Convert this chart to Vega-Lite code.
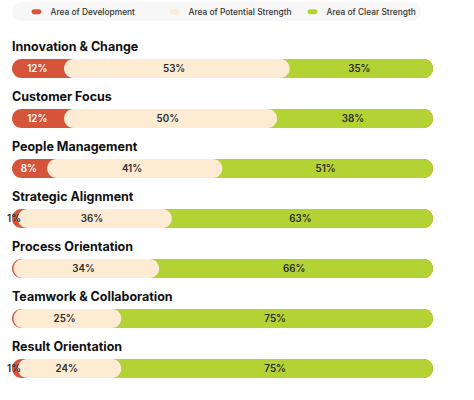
{
  "$schema": "https://vega.github.io/schema/vega-lite/v6.json",
  "autosize": {"type": "none"},
  "padding": {"top": 44, "left": 12, "right": 41, "bottom": 7},
  "width": 421,
  "height": {"step": 50},
  "background": "#ffffff",
  "config": {
    "view": {"stroke": null},
    "font": "Inter",
    "legend": {
      "symbolType": "M-0.5,-0.5H0.5A0.5,0.5 0 0 1 0.5,0.5H-0.5A0.5,0.5 0 0 1 -0.5,-0.5Z",
      "symbolSize": 100,
      "symbolOffset": 15,
      "symbolStrokeWidth": 0,
      "labelFont": "Inter",
      "labelFontSize": 8.4,
      "labelFontWeight": 500,
      "labelColor": "#333333",
      "labelOffset": 9,
      "fillColor": "#f7f7f7",
      "cornerRadius": 10,
      "padding": 4.5
    }
  },
  "data": {
    "values": [
      {"area": "Innovation & Change", "segment": "Area of Development", "order": 1, "share": 0.12},
      {"area": "Innovation & Change", "segment": "Area of Potential Strength", "order": 2, "share": 0.53},
      {"area": "Innovation & Change", "segment": "Area of Clear Strength", "order": 3, "share": 0.35},
      {"area": "Customer Focus", "segment": "Area of Development", "order": 1, "share": 0.12},
      {"area": "Customer Focus", "segment": "Area of Potential Strength", "order": 2, "share": 0.50},
      {"area": "Customer Focus", "segment": "Area of Clear Strength", "order": 3, "share": 0.38},
      {"area": "People Management", "segment": "Area of Development", "order": 1, "share": 0.08},
      {"area": "People Management", "segment": "Area of Potential Strength", "order": 2, "share": 0.41},
      {"area": "People Management", "segment": "Area of Clear Strength", "order": 3, "share": 0.51},
      {"area": "Strategic Alignment", "segment": "Area of Development", "order": 1, "share": 0.01},
      {"area": "Strategic Alignment", "segment": "Area of Potential Strength", "order": 2, "share": 0.36},
      {"area": "Strategic Alignment", "segment": "Area of Clear Strength", "order": 3, "share": 0.63},
      {"area": "Process Orientation", "segment": "Area of Development", "order": 1, "share": 0},
      {"area": "Process Orientation", "segment": "Area of Potential Strength", "order": 2, "share": 0.34},
      {"area": "Process Orientation", "segment": "Area of Clear Strength", "order": 3, "share": 0.66},
      {"area": "Teamwork & Collaboration", "segment": "Area of Development", "order": 1, "share": 0},
      {"area": "Teamwork & Collaboration", "segment": "Area of Potential Strength", "order": 2, "share": 0.25},
      {"area": "Teamwork & Collaboration", "segment": "Area of Clear Strength", "order": 3, "share": 0.75},
      {"area": "Result Orientation", "segment": "Area of Development", "order": 1, "share": 0.01},
      {"area": "Result Orientation", "segment": "Area of Potential Strength", "order": 2, "share": 0.24},
      {"area": "Result Orientation", "segment": "Area of Clear Strength", "order": 3, "share": 0.75}
    ]
  },
  "transform": [
    {"stack": "share", "groupby": ["area"], "sort": [{"field": "order", "order": "ascending"}], "as": ["start", "end"]}
  ],
  "encoding": {
    "y": {
      "field": "area",
      "type": "nominal",
      "axis": null,
      "scale": {
        "domain": ["Innovation & Change", "Customer Focus", "People Management", "Strategic Alignment", "Process Orientation", "Teamwork & Collaboration", "Result Orientation"],
        "paddingInner": 0.62,
        "paddingOuter": 0.3
      }
    }
  },
  "layer": [
    {
      "transform": [{"filter": "datum.order === 1"}],
      "mark": {"type": "bar", "cornerRadius": 9.5},
      "encoding": {
        "x": {"datum": 0, "type": "quantitative", "scale": {"domain": [0, 1]}, "axis": null},
        "x2": {"datum": 1},
        "color": {
          "field": "segment",
          "type": "nominal",
          "scale": {
            "domain": ["Area of Development", "Area of Potential Strength", "Area of Clear Strength"],
            "range": ["#d6553a", "#fdebd4", "#b3d234"]
          },
          "legend": {
            "title": null,
            "orient": "none",
            "legendX": 0,
            "legendY": -42,
            "direction": "horizontal",
            "columns": 3,
            "gridAlign": "all",
            "columnPadding": 0
          }
        }
      }
    },
    {
      "transform": [{"filter": "datum.order === 3"}],
      "mark": {"type": "bar", "cornerRadiusTopRight": 9.5, "cornerRadiusBottomRight": 9.5, "xOffset": -12},
      "encoding": {
        "x": {"field": "start", "type": "quantitative"},
        "x2": {"field": "end"},
        "color": {"field": "segment", "type": "nominal"}
      }
    },
    {
      "transform": [{"filter": "datum.order === 2"}],
      "mark": {"type": "bar", "cornerRadius": 9.5, "xOffset": 1.5, "x2Offset": 4},
      "encoding": {
        "x": {"field": "start", "type": "quantitative"},
        "x2": {"field": "end"},
        "color": {"field": "segment", "type": "nominal"}
      }
    },
    {
      "transform": [{"filter": "datum.order === 1"}],
      "mark": {"type": "text", "align": "left", "baseline": "alphabetic", "dy": -18, "font": "Inter", "fontSize": 12.5, "fontWeight": 700, "color": "#111111"},
      "encoding": {
        "x": {"datum": 0, "type": "quantitative"},
        "text": {"field": "area"}
      }
    },
    {
      "transform": [{"filter": "datum.share > 0"}],
      "mark": {"type": "text", "align": "center", "baseline": "middle", "font": "Inter", "fontSize": 9.8, "fontWeight": 600},
      "encoding": {
        "x": {"field": "share", "type": "quantitative", "stack": "zero", "bandPosition": 0.5},
        "order": {"field": "order"},
        "detail": {"field": "segment"},
        "text": {"field": "share", "type": "quantitative", "format": ".0%"},
        "color": {
          "condition": {"test": "datum.order === 1 && datum.share >= 0.05", "value": "#ffffff"},
          "value": "#2b2b2b"
        }
      }
    }
  ]
}
